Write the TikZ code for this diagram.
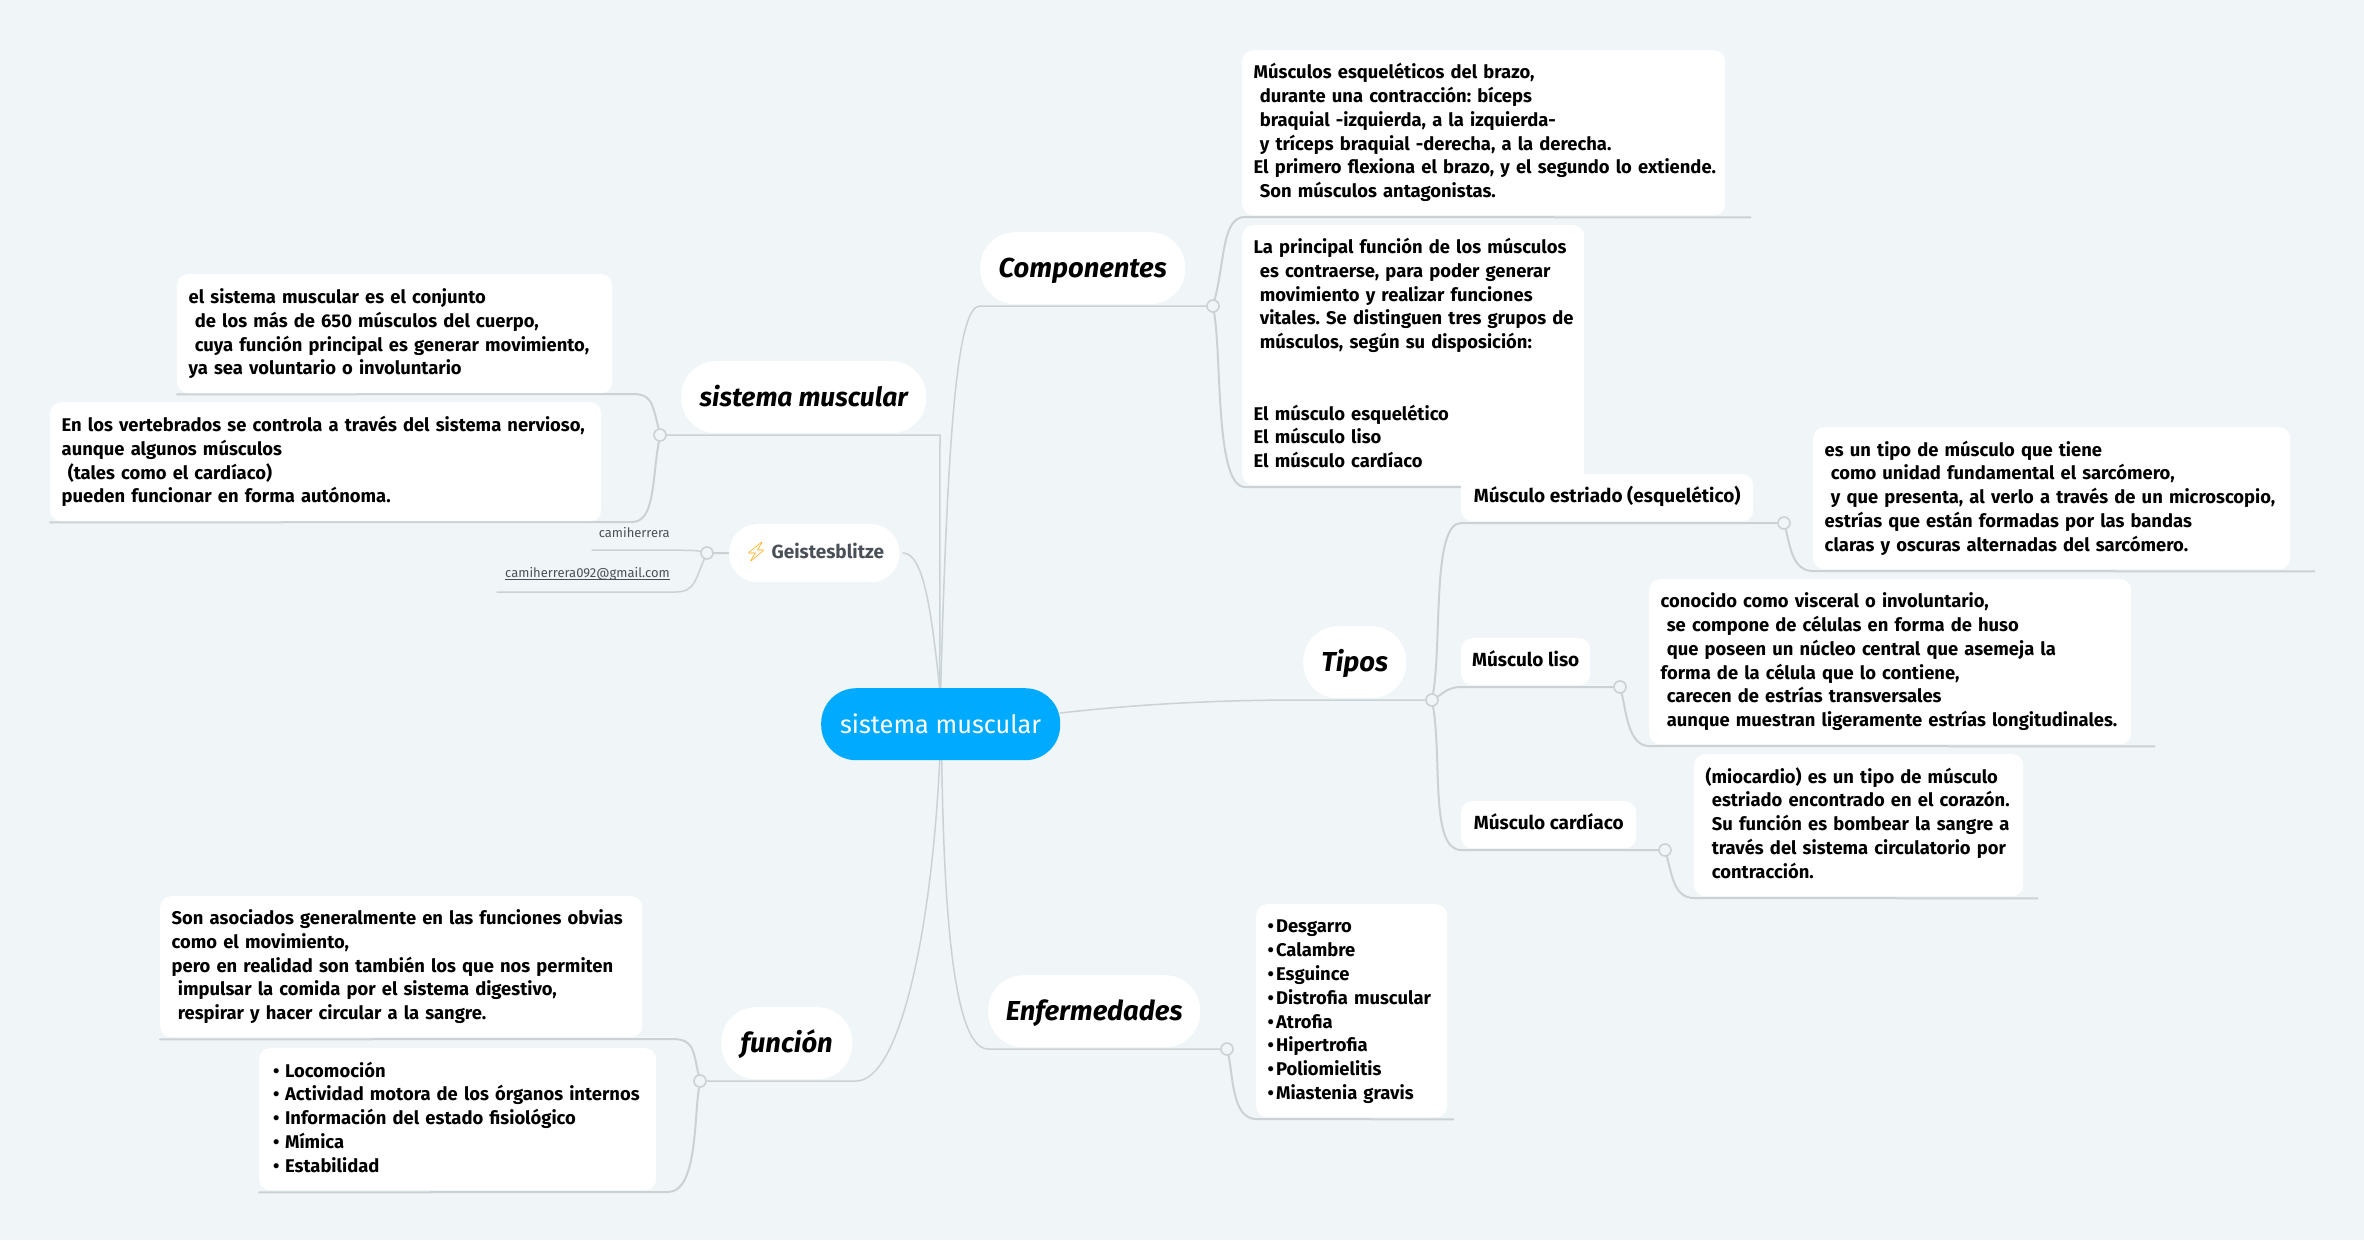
\documentclass[tikz,border=0pt]{standalone}
\usepackage{fontspec}
\setmainfont{Fira Sans}
\newfontfamily\emojifont{Noto Emoji}
\usetikzlibrary{backgrounds}
\frenchspacing
\definecolor{bgc}{HTML}{F0F5F8}
\definecolor{linec}{HTML}{CAD2D6}
\definecolor{centerc}{HTML}{00AAFF}
\definecolor{greyt}{HTML}{4A5058}
\newcommand{\ulbox}[1]{\setbox0\hbox{#1}\rlap{\rule[-2pt]{\wd0}{0.8pt}}\box0}
\newcommand{\bua}{\leavevmode•\kern2pt}
\newcommand{\bub}{\leavevmode\kern2.5pt•\kern5.5pt}
\tikzset{
  x=1pt,y=-1pt,
  conn/.style={draw=linec,line width=2pt,line cap=round},
  hub/.style={circle,draw=linec,line width=1.6pt,fill=bgc,minimum size=12pt,inner sep=0pt},
  tbox/.style={fill=white,rounded corners=11pt,anchor=north west,align=left,inner xsep=11.5pt,inner ysep=0pt,
    font=\fontsize{18.4}{23.8}\selectfont\bfseries,text=black,
    execute at begin node={\rule{0pt}{18pt}},execute at end node=\strut},
  pill/.style={fill=white,rounded corners=35pt,anchor=north west,align=center,inner sep=0pt,
    font=\fontsize{27.4}{30}\selectfont\bfseries\itshape,text=black,text height=22pt,text depth=3pt},
  sbox/.style={fill=white,rounded corners=11pt,anchor=north west,align=center,inner sep=0pt,
    font=\fontsize{19}{24}\selectfont\bfseries,text=black,text height=14.5pt,text depth=4.5pt},
}
\begin{document}
\begin{tikzpicture}
\useasboundingbox (0,0) rectangle (2364,1240);
\begin{pgfonlayer}{background}
\fill[bgc] (0,0) rectangle (2364,1240);
\end{pgfonlayer}
% central
\node[fill=centerc,rounded corners=35pt,minimum width=239pt,minimum height=72pt,inner sep=0pt,anchor=north west,text=white,font=\fontsize{25.3}{30}\selectfont,text height=22pt,text depth=3pt] (center) at (821,688) {sistema muscular};
% main topics
\node[pill,minimum width=245pt,minimum height=72pt,font=\fontsize{26.4}{30}\selectfont\bfseries\itshape] (sm) at (681,361) {sistema muscular};
\node[pill,minimum width=205pt,minimum height=72pt] (comp) at (980,232) {Componentes};
\node[pill,minimum width=103pt,minimum height=72pt] (tipos) at (1303,626) {Tipos};
\node[pill,minimum width=212pt,minimum height=72pt] (enf) at (988,975) {Enfermedades};
\node[pill,minimum width=131pt,minimum height=72pt] (fun) at (721,1007) {función};
\node[fill=white,rounded corners=28pt,anchor=north west,minimum width=170pt,minimum height=58pt,inner sep=0pt,text=greyt,font=\fontsize{19}{24}\selectfont\bfseries,text height=15pt,text depth=4pt] (geist) at (729,524) {{\emojifont\color{orange!70!yellow}⚡}\,Geistesblitze};
% texts
\node[tbox,minimum width=435pt,minimum height=119pt,text width=412pt] (t1) at (177,274) {el sistema muscular es el conjunto\\\ de los más de 650 músculos del cuerpo,\\\ cuya función principal es generar movimiento,\\ya sea voluntario o involuntario};
\node[tbox,minimum width=551pt,minimum height=119pt,text width=528pt] (t2) at (50,402) {En los vertebrados se controla a través del sistema nervioso,\\aunque algunos músculos\\\ (tales como el cardíaco)\\pueden funcionar en forma autónoma.};
\node[tbox,minimum width=483pt,minimum height=165pt,text width=460pt] (t3) at (1242,50) {Músculos esqueléticos del brazo,\\\ durante una contracción: bíceps\\\ braquial -izquierda, a la izquierda-\\\ y tríceps braquial -derecha, a la derecha.\\\leavevmode\rlap{El primero flexiona el brazo, y el segundo lo extiende.}\\\ Son músculos antagonistas.};
\node[tbox,minimum width=342pt,minimum height=260pt,text width=319pt] (t4) at (1242,225) {La principal función de los músculos\\\ es contraerse, para poder generar\\\ movimiento y realizar funciones\\\ \rlap{vitales. Se distinguen tres grupos de}\\\ músculos, según su disposición:\\[47.6pt]El músculo esquelético\\El músculo liso\\El músculo cardíaco};
\node[sbox,minimum width=292pt,minimum height=47pt] (est) at (1461,474) {Músculo estriado (esquelético)};
\node[sbox,minimum width=129pt,minimum height=47pt] (liso) at (1461,638) {Músculo liso};
\node[sbox,minimum width=175pt,minimum height=47pt] (card) at (1461,801) {Músculo cardíaco};
\node[tbox,minimum width=477pt,minimum height=142pt,text width=454pt] (t5) at (1813,427) {es un tipo de músculo que tiene\\\ como unidad fundamental el sarcómero,\\\ y que presenta, al verlo a través de un microscopio,\\estrías que están formadas por las bandas\\claras y oscuras alternadas del sarcómero.};
\node[tbox,minimum width=482pt,minimum height=165pt,text width=459pt] (t6) at (1649,579) {conocido como visceral o involuntario,\\\ se compone de células en forma de huso\\\ que poseen un núcleo central que asemeja la\\forma de la célula que lo contiene,\\\ carecen de estrías transversales\\\ aunque muestran ligeramente estrías longitudinales.};
\node[tbox,minimum width=329pt,minimum height=142pt,text width=306pt] (t7) at (1694,754) {(miocardio) es un tipo de músculo\\\ estriado encontrado en el corazón.\\\ Su función es bombear la sangre a\\\ través del sistema circulatorio por\\\ contracción.};
\node[tbox,minimum width=191pt,minimum height=213pt,text width=168pt] (t8) at (1256,904) {\bua Desgarro\\\bua Calambre\\\bua Esguince\\\bua Distrofia muscular\\\bua Atrofia\\\bua Hipertrofia\\\bua Poliomielitis\\\bua Miastenia gravis};
\node[tbox,minimum width=482pt,minimum height=141pt,text width=459pt] (t9) at (160,896) {Son asociados generalmente en las funciones obvias\\como el movimiento,\\pero en realidad son también los que nos permiten\\\ impulsar la comida por el sistema digestivo,\\\ respirar y hacer circular a la sangre.};
\node[tbox,minimum width=397pt,minimum height=142pt,text width=374pt] (t10) at (259,1048) {\bub Locomoción\\\bub Actividad motora de los órganos internos\\\bub Información del estado fisiológico\\\bub Mímica\\\bub Estabilidad};
% small labels
\node[anchor=east,inner sep=0pt,text=greyt,font=\fontsize{13}{16}\selectfont] (cam) at (670,532) {camiherrera};
\node[anchor=east,inner sep=0pt,text=greyt,font=\fontsize{13}{16}\selectfont] (mail) at (670,574) {\ulbox{camiherrera092@gmail.com}};
% hubs
\node[hub] (hsm) at (660,435) {};
\node[hub] (hg) at (707,553) {};
\node[hub] (hcomp) at (1213,306) {};
\node[hub] (htip) at (1432,700) {};
\node[hub] (hest) at (1784,523) {};
\node[hub] (hliso) at (1620,687) {};
\node[hub] (hcard) at (1665,850) {};
\node[hub] (henf) at (1227,1049) {};
\node[hub] (hfun) at (700,1081) {};
% connector waypoints
\coordinate (smr) at (940,435);
\coordinate (compl) at (980,306);
\coordinate (tipl) at (1300,700);
\coordinate (enfl) at (988,1049);
\coordinate (funr) at (856,1081);
\coordinate (geistR) at (903,553);
\coordinate (camE) at (592,550);
\coordinate (mailE) at (497,592);
\begin{pgfonlayer}{background}
\tikzset{every path/.append style={conn}}
% trunk
\draw[line width=1.5pt] ([xshift=-1pt]center.north) -- (smr) -- (hsm);
\draw[line width=1.5pt] (center.north) .. controls (948,420) and (958,306) .. (compl) -- (hcomp);
\draw[line width=1.5pt] (center.east|-0,713) .. controls (1130,705) and (1210,700) .. (tipl) -- (htip);
\draw[line width=1.5pt] ([xshift=1pt]center.south) .. controls +(2,120) and (950,1049) .. (enfl) -- (henf);
\draw[line width=1.5pt] ([xshift=-1pt]center.south) .. controls +(-8,170) and (900,1081) .. (funr) -- (hfun);
\draw[line width=1.5pt] (geistR) .. controls (925,553) and (932,620) .. ([xshift=-1pt]center.north);
% sm
\draw (hsm) .. controls (652,400) and (650,394) .. (632,394) -- ([yshift=-1pt]t1.south west);
\draw (hsm) .. controls (652,480) and (655,522) .. (632,522) -- ([yshift=-1pt]t2.south west);
% geist
\draw (geist.west) -- (hg);
\draw[line width=1.5pt] (hg) .. controls (695,550) and (680,550) .. (camE);
\draw[line width=1.5pt] (hg) .. controls (695,580) and (695,592) .. (675,592) -- (mailE);
% comp
\draw (hcomp) .. controls (1225,260) and (1222,217) .. (1245,217) -- ([yshift=-2pt,xshift=25pt]t3.south east);
\draw (hcomp) .. controls (1222,360) and (1215,487) .. (1245,487) -- ([yshift=-2pt,xshift=25pt]t4.south east);
% tipos
\draw (htip) .. controls (1442,640) and (1432,523) .. (1461,523) -- (hest);
\draw (htip) .. controls (1442,694) and (1448,687) .. (1461,687) -- (hliso);
\draw (htip) .. controls (1442,760) and (1430,850) .. (1461,850) -- (hcard);
\draw (hest) .. controls (1790,545) and (1792,571) .. (1813,571) -- ([yshift=-2pt,xshift=24pt]t5.south east);
\draw (hliso) .. controls (1626,710) and (1628,746) .. (1649,746) -- ([yshift=-2pt,xshift=23pt]t6.south east);
\draw (hcard) .. controls (1672,875) and (1674,898) .. (1694,898) -- ([yshift=-2pt,xshift=14pt]t7.south east);
% enf
\draw (henf) .. controls (1233,1075) and (1232,1119) .. (1256,1119) -- ([yshift=-2pt,xshift=6pt]t8.south east);
% fun
\draw (hfun) .. controls (693,1050) and (694,1039) .. (672,1039) -- ([yshift=-2pt]t9.south west);
\draw (hfun) .. controls (694,1120) and (697,1192) .. (668,1192) -- ([yshift=-2pt]t10.south west);
\end{pgfonlayer}
\end{tikzpicture}
\end{document}
